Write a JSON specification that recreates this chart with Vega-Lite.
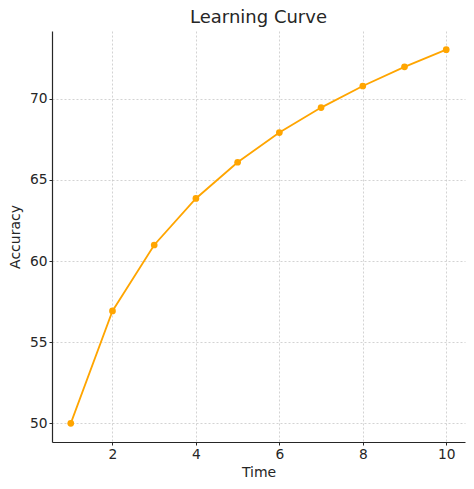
{
  "$schema": "https://vega.github.io/schema/vega-lite/v6.json",
  "autosize": "none",
  "width": 413,
  "height": 411,
  "padding": {"left": 52, "top": 31, "right": 9, "bottom": 47},
  "background": "white",
  "title": {"text": "Learning Curve", "font": "DejaVu Sans", "fontSize": 18, "fontWeight": "normal", "color": "#262626", "offset": 4},
  "data": {"values": [
    {"Time": 1, "Accuracy": 50.0},
    {"Time": 2, "Accuracy": 56.93},
    {"Time": 3, "Accuracy": 60.99},
    {"Time": 4, "Accuracy": 63.86},
    {"Time": 5, "Accuracy": 66.09},
    {"Time": 6, "Accuracy": 67.92},
    {"Time": 7, "Accuracy": 69.46},
    {"Time": 8, "Accuracy": 70.79},
    {"Time": 9, "Accuracy": 71.97},
    {"Time": 10, "Accuracy": 73.03}
  ]},
  "config": {
    "view": {"stroke": null},
    "axis": {
      "labelFont": "DejaVu Sans", "labelFontSize": 13.8, "labelColor": "#262626",
      "titleFont": "DejaVu Sans", "titleFontSize": 14, "titleFontWeight": "normal", "titleColor": "#262626",
      "domainColor": "#262626", "domainWidth": 1.2,
      "tickColor": "#262626", "tickSize": 3, "labelPadding": 2,
      "gridColor": "#c8c8c8", "gridDash": [2, 2], "gridWidth": 0.8
    }
  },
  "mark": {"type": "line", "point": {"filled": true, "size": 45, "color": "#FFA500", "opacity": 1}, "color": "#FFA500", "strokeWidth": 1.8},
  "encoding": {
    "x": {"field": "Time", "type": "quantitative", "scale": {"domain": [0.55, 10.45], "nice": false, "zero": false},
      "axis": {"values": [2, 4, 6, 8, 10], "title": "Time", "titlePadding": 5, "labelFlush": false}},
    "y": {"field": "Accuracy", "type": "quantitative", "scale": {"domain": [48.85, 74.18], "nice": false, "zero": false},
      "axis": {"values": [50, 55, 60, 65, 70], "title": "Accuracy", "titlePadding": 7, "labelFlush": false}}
  }
}
